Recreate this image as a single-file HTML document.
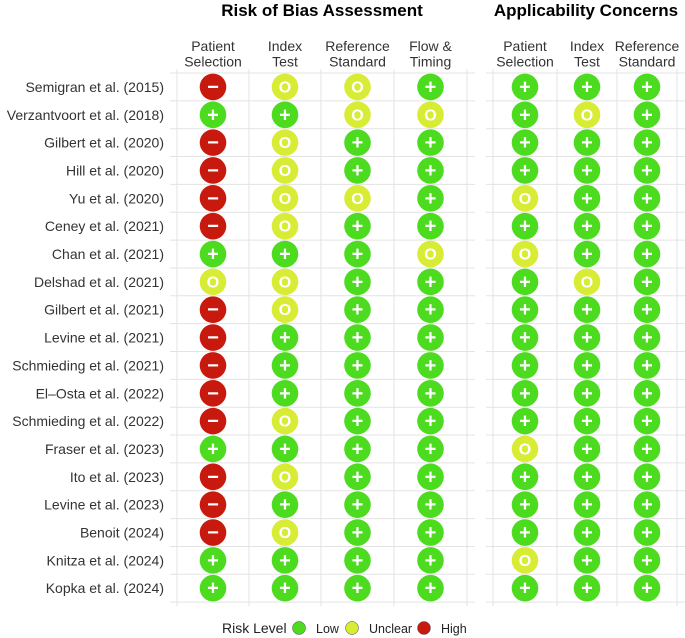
<!DOCTYPE html>
<html><head><meta charset="utf-8"><style>
html,body{margin:0;padding:0;background:#fff;}
svg{display:block;font-family:"Liberation Sans",Arial,sans-serif;}
</style></head><body>
<svg id="chart" width="685" height="638" viewBox="0 0 685 638">
<text x="322" y="16" font-size="17" font-weight="bold" text-anchor="middle" fill="#000">Risk of Bias Assessment</text>
<text x="586" y="16" font-size="17" font-weight="bold" text-anchor="middle" fill="#000">Applicability Concerns</text>
<g id="grid"></g><g id="heads"></g><g id="labels"></g><g id="marks"></g>
<g>
<text x="222" y="633" font-size="14" fill="#222">Risk Level</text>
<circle cx="299" cy="628" r="6.5" fill="#4ddb1f" stroke="#444" stroke-width="0.5"/><text x="316" y="633" font-size="12.5" fill="#222">Low</text>
<circle cx="352" cy="628" r="6.5" fill="#d9ec35" stroke="#444" stroke-width="0.5"/><text x="369" y="633" font-size="12.5" fill="#222">Unclear</text>
<circle cx="424" cy="628" r="6.5" fill="#c8190f" stroke="#444" stroke-width="0.5"/><text x="441" y="633" font-size="12.5" fill="#222">High</text>
</g>
</svg>
<script>
const studies = ["Semigran et al. (2015)","Verzantvoort et al. (2018)","Gilbert et al. (2020)","Hill et al. (2020)","Yu et al. (2020)","Ceney et al. (2021)","Chan et al. (2021)","Delshad et al. (2021)","Gilbert et al. (2021)","Levine et al. (2021)","Schmieding et al. (2021)","El–Osta et al. (2022)","Schmieding et al. (2022)","Fraser et al. (2023)","Ito et al. (2023)","Levine et al. (2023)","Benoit (2024)","Knitza et al. (2024)","Kopka et al. (2024)"];
const robDomains = ["Patient|Selection","Index|Test","Reference|Standard","Flow &|Timing"];
const appDomains = ["Patient|Selection","Index|Test","Reference|Standard"];
const robValues = ["HUUL","LLUU","HULL","HULL","HUUL","HULL","LLLU","UULL","HULL","HLLL","HLLL","HLLL","HULL","LLLL","HULL","HLLL","HULL","LLLL","LLLL"];
const appValues = ["LLL","LUL","LLL","LLL","ULL","LLL","ULL","LUL","LLL","LLL","LLL","LLL","LLL","ULL","LLL","LLL","LLL","ULL","LLL"];

const NS="http://www.w3.org/2000/svg";
const top0=73, pitch=27.85;
const yRow=i=>top0+pitch*(i+0.5);
const p1=[177,249,321,394,467], p2=[493,557,617,677];
const colors={L:"#4ddb1f",U:"#d9ec35",H:"#c8190f"};
const syms={L:"+",U:"O",H:"−"};
function mk(tag,attrs,parent){const e=document.createElementNS(NS,tag);for(const k in attrs)e.setAttribute(k,attrs[k]);parent.appendChild(e);return e;}
const grid=document.getElementById('grid'),heads=document.getElementById('heads'),labels=document.getElementById('labels'),marks=document.getElementById('marks');
const yBot=top0+pitch*studies.length;
for(let i=0;i<=studies.length;i++){const y=top0+pitch*i;
 mk('line',{x1:170,x2:475,y1:y,y2:y,stroke:"#e3e3e3","stroke-width":1},grid);
 mk('line',{x1:486,x2:685,y1:y,y2:y,stroke:"#e3e3e3","stroke-width":1},grid);}
[p1,p2].forEach(xs=>xs.forEach(x=>mk('line',{x1:x,x2:x,y1:top0-4,y2:yBot+4,stroke:"#e3e3e3","stroke-width":1},grid)));
function header(names,xs,prefix){names.forEach((n,j)=>{const cx=(xs[j]+xs[j+1])/2;const parts=n.split('|');
 parts.forEach((p,k)=>{const t=mk('text',{x:cx,y:51+k*15.5,"font-size":14,"text-anchor":"middle",fill:"#333"},heads);t.textContent=p;
 
 });});}
header(robDomains,p1,'rob');header(appDomains,p2,'app');
studies.forEach((s,i)=>{const t=mk('text',{x:164,y:yRow(i)+5,"font-size":14,"text-anchor":"end",fill:"#333"},labels);t.textContent=s;
 
 });
function draw(vals,xs,prefix){vals.forEach((row,i)=>{row.split('').forEach((v,j)=>{const cx=(xs[j]+xs[j+1])/2,cy=yRow(i);
 const g=mk('g',{},marks);
 
 
 mk('circle',{cx:cx,cy:cy,r:13.3,fill:colors[v]},g);
 const t=mk('text',{x:cx,y:cy+(v==="U"?5.5:6.5),"font-size":v==="U"?16:20,"text-anchor":"middle",fill:"#fff","font-weight":"bold"},g);t.textContent=syms[v];});});}
draw(robValues,p1,'rob');draw(appValues,p2,'app');
</script>
</body></html>
